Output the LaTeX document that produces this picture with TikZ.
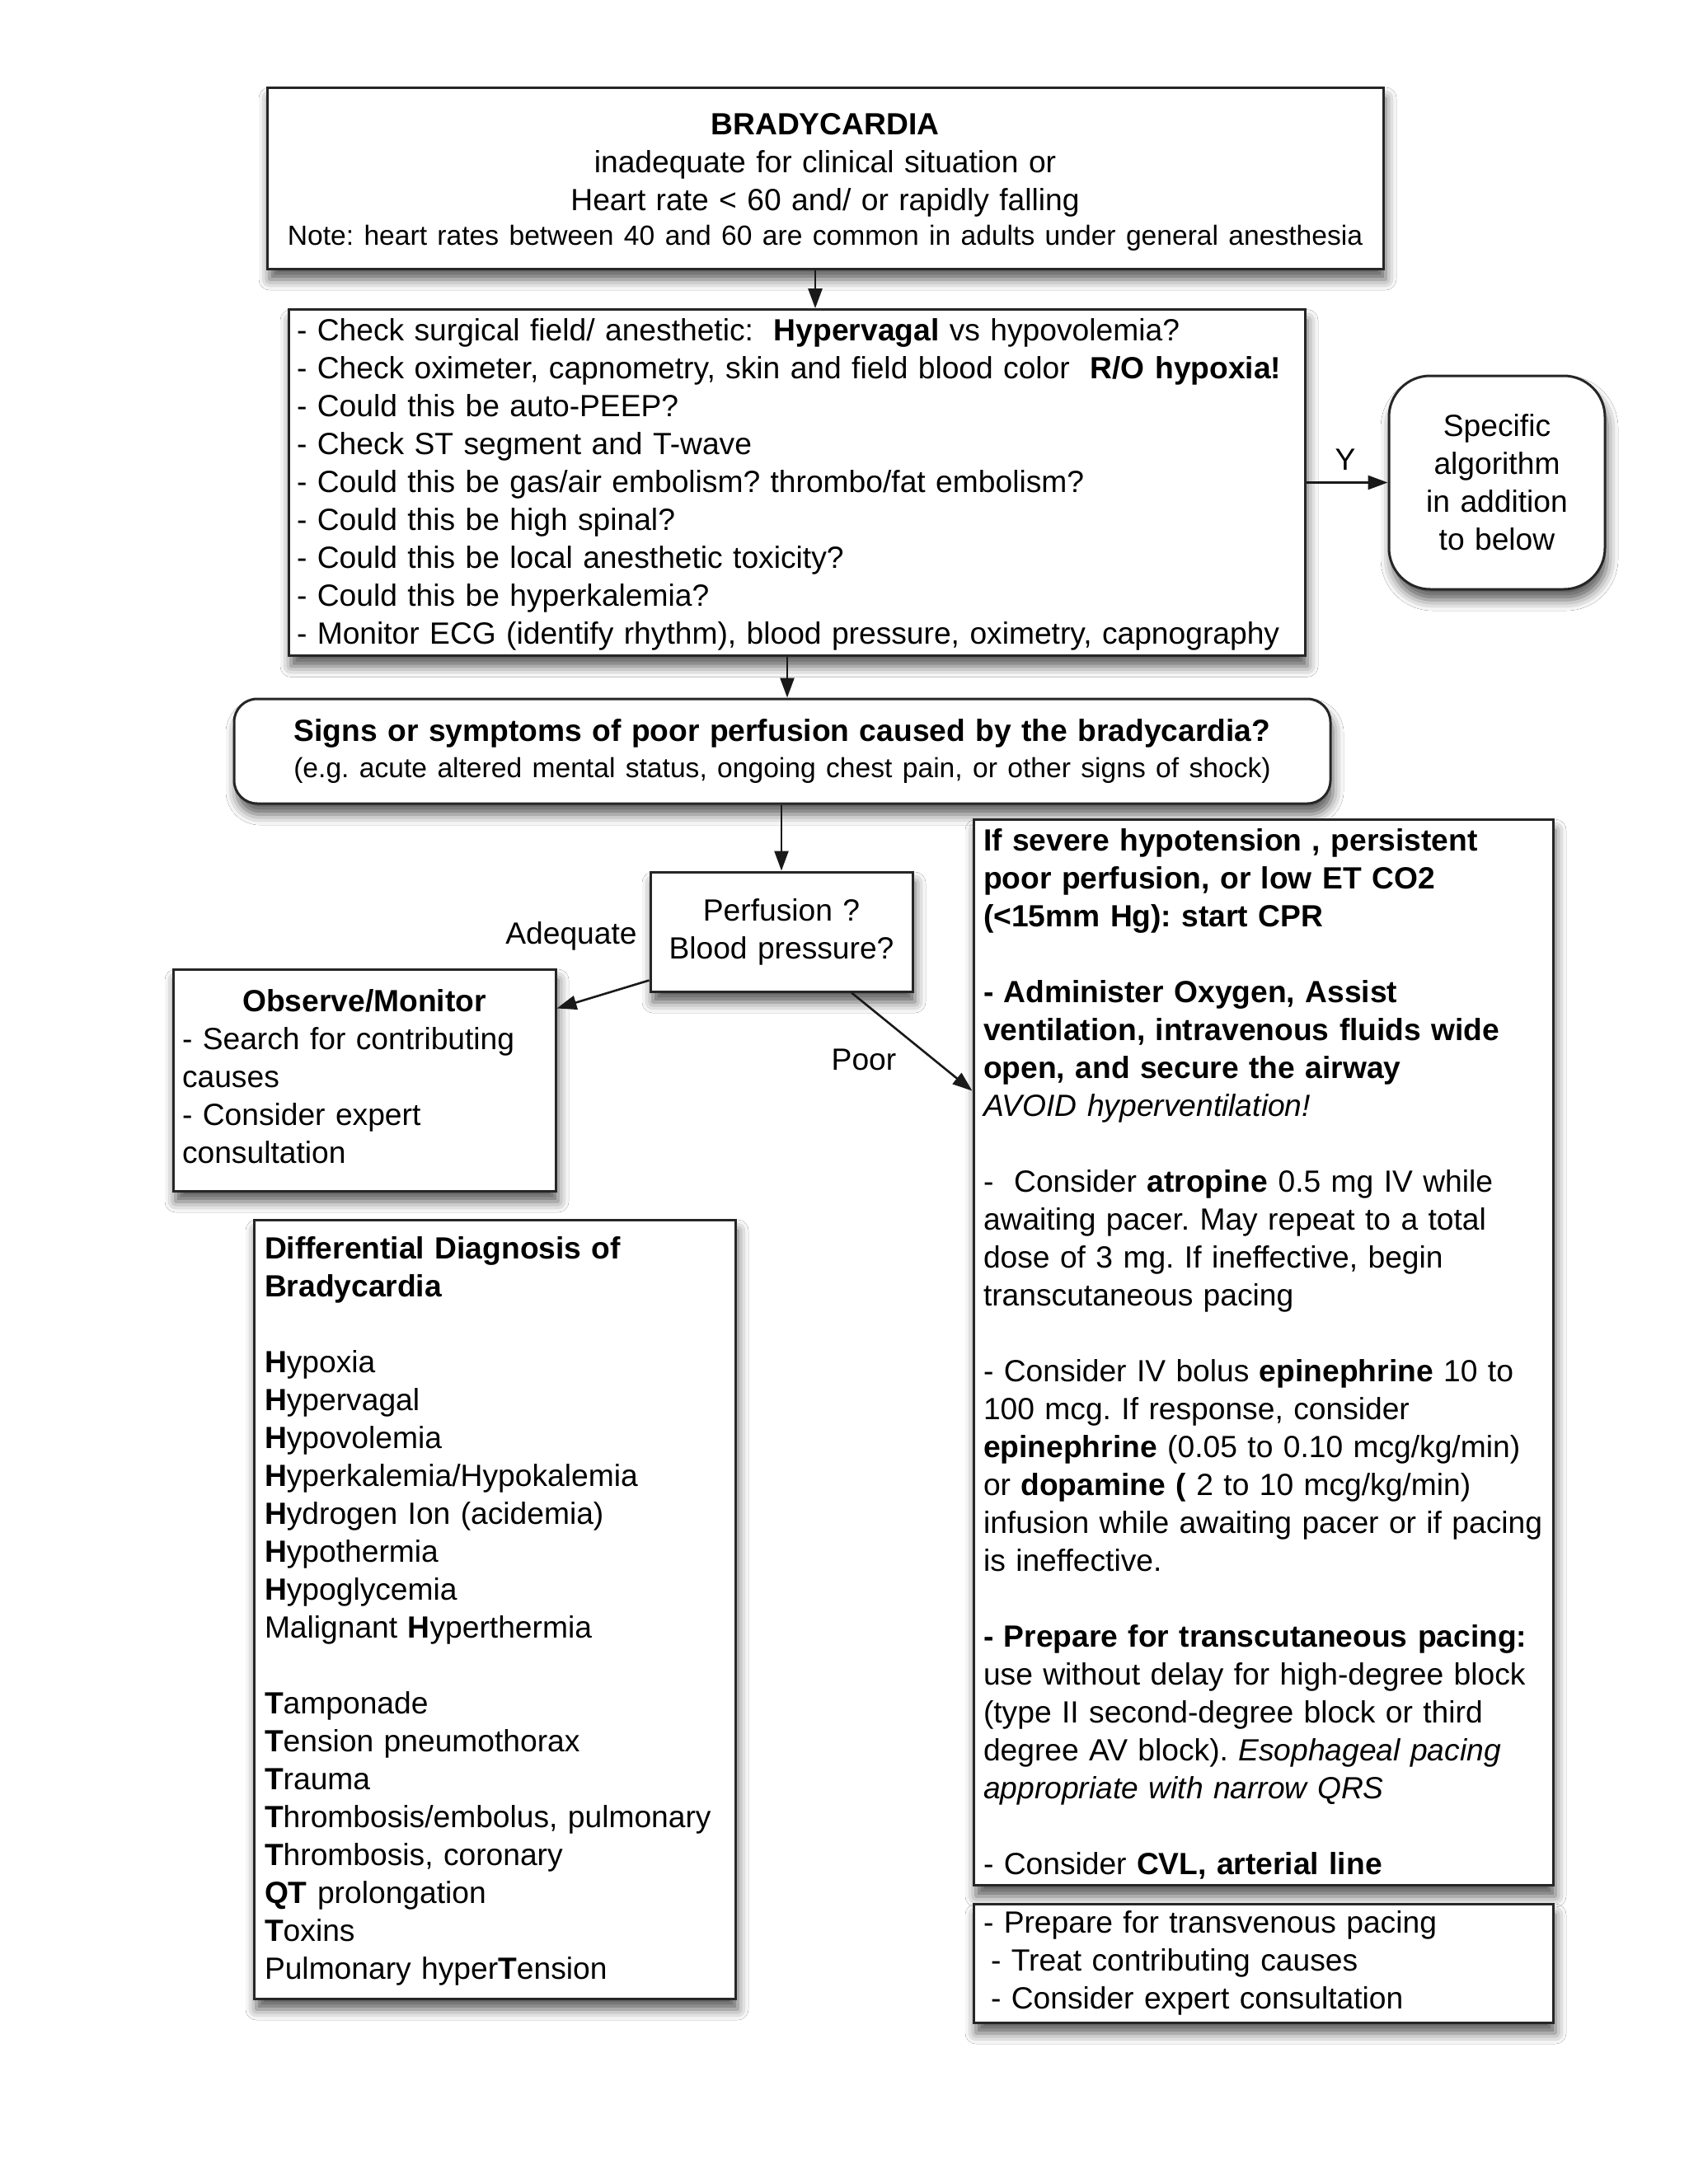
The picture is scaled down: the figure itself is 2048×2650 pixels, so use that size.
\documentclass[tikz,border=0pt]{standalone}
\usepackage{fontspec}
\setmainfont{Liberation Sans}
\usetikzlibrary{arrows.meta,shadows.blur}
\newcommand{\fa}{\fontsize{37.2}{46}\selectfont\frenchspacing}
\newcommand{\fb}{\fontsize{33.6}{46}\selectfont\frenchspacing}
\begin{document}
\begin{tikzpicture}[x=1pt,y=-1pt,
  box/.style={draw=black!85, line width=3pt, fill=white,
    blur shadow={shadow xshift=3pt, shadow yshift=-13pt, shadow blur radius=13pt, shadow opacity=65},
    inner ysep=0pt, font=\fa},
  arr/.style={line width=2.6pt, draw=black!90, -{Triangle[length=24pt,width=17pt]}},
  lbl/.style={font=\fa, inner sep=0pt}]
\path[use as bounding box, fill=white] (0,0) rectangle (2048,2650);

% boxes
\node[box, text width=1334pt, inner xsep=10pt, minimum height=220pt, align=center] (top) at (1001,216)
 {\rule{0pt}{36pt}\textbf{BRADYCARDIA}\\ inadequate for clinical situation or\\ Heart rate < 60 and/ or rapidly falling\\[-4pt]
  {\fb\mbox{Note: heart rates between 40 and 60 are common in adults under general anesthesia}}};

\node[box, text width=1213pt, inner xsep=10pt, minimum height=417pt, align=left] (box2) at (966.5,585.5)
 {\rule{0pt}{38pt}- Check surgical field/ anesthetic:~~\textbf{Hypervagal} vs hypovolemia?\\
  \mbox{- Check oximeter, capnometry, skin and field blood color~~\textbf{R/O hypoxia!}}\\
  - Could this be auto-PEEP?\\
  - Check ST segment and T-wave\\
  - Could this be gas/air embolism? thrombo/fat embolism?\\
  - Could this be high spinal?\\
  - Could this be local anesthetic toxicity?\\
  - Could this be hyperkalemia?\\
  \mbox{- Monitor ECG (identify rhythm), blood pressure, oximetry, capnography}\strut};

\node[box, rounded corners=50pt, text width=242pt, inner xsep=10pt, minimum height=259pt, align=center] (spec) at (1816,585.5)
 {Specific\\ algorithm\\ in addition\\ to below};

\node[box, rounded corners=28pt, text width=1310pt, inner xsep=10pt, minimum height=127pt, align=center] (signs) at (949,911.5)
 {\mbox{\textbf{Signs or symptoms of poor perfusion caused by the bradycardia?}}\\[-2pt]
  {\fb\mbox{(e.g. acute altered mental status, ongoing chest pain, or other signs of shock)}}};

\node[box, text width=298pt, inner xsep=10pt, minimum height=145pt, align=center] (perf) at (948,1130.5)
 {Perfusion ?\\ Blood pressure?};

\node[box, text width=442pt, inner xsep=11pt, minimum height=269pt, align=left] (obs) at (442,1310.5)
 {\strut\makebox[442pt][c]{\textbf{Observe/Monitor}}\\
  - Search for contributing\\ causes\\ - Consider expert\\ consultation\strut};

\node[box, text width=679pt, inner xsep=12pt, minimum height=1288pt, align=left] (right) at (1532.5,1641)
 {\rule{0pt}{38pt}\textbf{If severe hypotension , persistent}\\
  \textbf{poor perfusion, or low ET CO2}\\
  \textbf{(<15mm Hg): start CPR}\\[46pt]
  \textbf{- Administer Oxygen, Assist}\\
  \mbox{\textbf{ventilation, intravenous fluids wide}}\\
  \textbf{open, and secure the airway}\\
  \textit{AVOID hyperventilation!}\\[46pt]
  -~~Consider \textbf{atropine} 0.5 mg IV while\\
  awaiting pacer. May repeat to a total\\
  dose of 3 mg. If ineffective, begin\\
  transcutaneous pacing\\[46pt]
  \mbox{- Consider IV bolus \textbf{epinephrine} 10 to}\\
  100 mcg. If response, consider\\
  \mbox{\textbf{epinephrine} (0.05 to 0.10 mcg/kg/min)}\\
  or \textbf{dopamine (} 2 to 10 mcg/kg/min)\\
  \mbox{infusion while awaiting pacer or if pacing}\\
  is ineffective.\\[46pt]
  \mbox{\textbf{- Prepare for transcutaneous pacing:}}\\
  \mbox{use without delay for high-degree block}\\
  \mbox{(type II second-degree block or third}\\
  \mbox{degree AV block). \textit{Esophageal pacing}}\\
  \textit{appropriate with narrow QRS}\\[46pt]
  - Consider \textbf{CVL, arterial line}\strut};

\node[box, text width=679pt, inner xsep=12pt, minimum height=144pt, align=left] (bot) at (1532.5,2382)
 {\strut - Prepare for transvenous pacing\\
  \hspace*{9pt}- Treat contributing causes\\
  \hspace*{9pt}- Consider expert consultation\strut};

\node[box, text width=558pt, inner xsep=13pt, minimum height=945pt, align=left] (diff) at (600,1952.5)
 {\rule{0pt}{38pt}\textbf{Differential Diagnosis of}\\
  \textbf{Bradycardia}\\[46pt]
  \textbf{H}ypoxia\\
  \textbf{H}ypervagal\\
  \textbf{H}ypovolemia\\
  \textbf{H}yperkalemia/Hypokalemia\\
  \textbf{H}ydrogen Ion (acidemia)\\
  \textbf{H}ypothermia\\
  \textbf{H}ypoglycemia\\
  Malignant \textbf{H}yperthermia\\[46pt]
  \textbf{T}amponade\\
  \textbf{T}ension pneumothorax\\
  \textbf{T}rauma\\
  \mbox{\textbf{T}hrombosis/embolus, pulmonary}\\
  \textbf{T}hrombosis, coronary\\
  \textbf{QT} prolongation\\
  \textbf{T}oxins\\
  Pulmonary hyper\textbf{T}ension\strut};

% connectors
\coordinate (a1) at (989,0);
\coordinate (a3) at (955,0);
\draw[arr] (top.south -| a1) -- (box2.north -| a1);
\draw[arr] (box2.east |- spec.west) -- (spec.west);
\node[lbl] (ylab) at (1632,558) {Y};
\draw[arr] (box2.south -| a3) -- (signs.north -| a3);
\draw[arr] (signs.south -| perf.north) -- (perf.north);
\draw[arr] ([yshift=15pt]perf.south west) -- ([yshift=-49pt]obs.north east);
\node[lbl] (adeq) at (693,1136) {Adequate};
\draw[arr] ([xshift=85pt]perf.south) -- ([yshift=-331pt]right.north west);
\node[lbl] (poor) at (1048,1286) {Poor};
\end{tikzpicture}
\end{document}
